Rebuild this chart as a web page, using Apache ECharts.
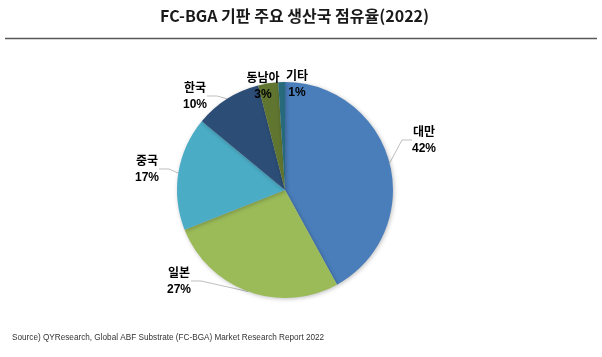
<!DOCTYPE html>
<html>
<head>
<meta charset="utf-8">
<script src="https://cdn.jsdelivr.net/npm/echarts@6/dist/echarts.min.js"></script>
<style>html,body{margin:0;padding:0;background:#fff;}#main{width:602px;height:357px;}</style>
</head>
<body>
<div id="main"></div>
<script>
var categories = ['대만', '일본', '중국', '한국', '동남아', '기타'];
var shares = [42, 27, 17, 10, 3, 1];
var titleText = 'FC-BGA 기판 주요 생산국 점유율(2022)';
var sourceText = 'Source) QYResearch, Global ABF Substrate (FC-BGA) Market Research Report 2022';

var colors = ['#4A7EBB', '#9BBB59', '#4BACC6', '#2C4D75', '#5F7530', '#276A7C'];
// label centres (layout only)
var labelCenters = [[424, 140], [179, 281], [147, 169], [195, 96], [263, 86], [297, 84]];

var chart = echarts.init(document.getElementById('main'), null, {renderer: 'canvas'});
var data = categories.map(function (c, i) {
  return {
    name: c, value: shares[i],
    itemStyle: {color: colors[i]},
    labelLine: {show: i < 4}
  };
});
chart.setOption({
  animation: false,
  backgroundColor: '#fff',
  title: [{
    text: titleText, left: 155, top: 3,
    textStyle: {fontFamily: "'Noto Sans CJK KR', sans-serif", fontWeight: 'bold', fontSize: 16, color: '#1a1a1a'}
  }, {
    text: sourceText, left: 7, top: 329,
    textStyle: {fontFamily: "'Liberation Sans', 'Noto Sans CJK KR', sans-serif", fontWeight: 'normal', fontSize: 8.2, color: '#333'}
  }],
  graphic: [{
    type: 'line', shape: {x1: 5, y1: 38.5, x2: 597, y2: 38.5},
    style: {stroke: '#595959', lineWidth: 1.4}
  }],
  series: [{
    type: 'pie',
    center: [285, 190],
    radius: 108,
    startAngle: 90,
    clockwise: true,
    avoidLabelOverlap: false,
    itemStyle: {shadowBlur: 4, shadowColor: 'rgba(0,0,0,0.25)', shadowOffsetX: 1, shadowOffsetY: 1},
    label: {
      show: true,
      position: 'outside',
      formatter: '{n|{b}}\n{p|{c}%}',
      rich: {
        n: {fontFamily: "'Noto Sans CJK KR', sans-serif", fontWeight: 'bold', fontSize: 12, color: '#000', lineHeight: 17, align: 'center'},
        p: {fontFamily: "'Liberation Sans', sans-serif", fontWeight: 'bold', fontSize: 12, color: '#000', lineHeight: 17, align: 'center'}
      }
    },
    labelLine: {show: true, lineStyle: {color: '#BFBFBF', width: 1}, length: 15, length2: 10},
    labelLayout: function (params) {
      var p = labelCenters[params.dataIndex];
      return {x: p[0], y: p[1], align: 'center', verticalAlign: 'middle'};
    },
    emphasis: {disabled: true},
    data: data
  }]
});
</script>
</body>
</html>
